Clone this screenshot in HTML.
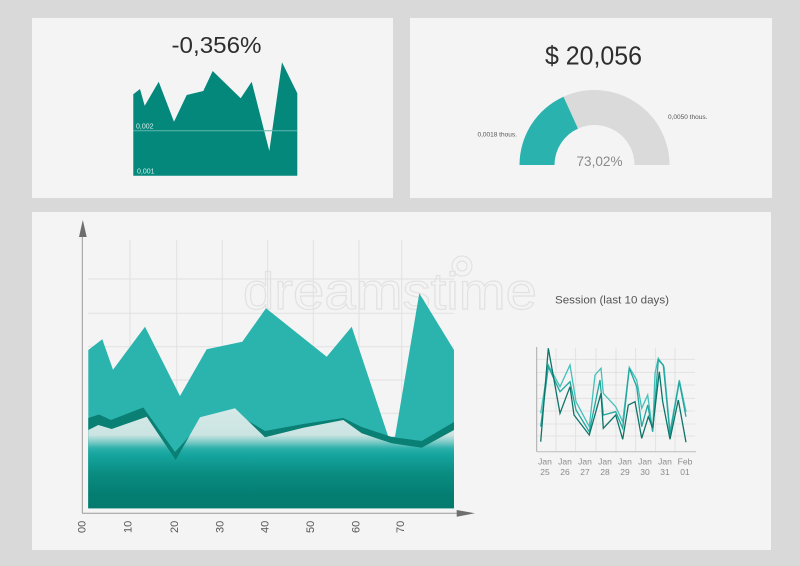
<!DOCTYPE html>
<html>
<head>
<meta charset="utf-8">
<style>
  html,body{margin:0;padding:0;background:#d9d9d9;}
  svg{display:block;}
  text{font-family:"Liberation Sans",sans-serif;}
</style>
</head>
<body>
<svg width="800" height="566" viewBox="0 0 800 566" xmlns="http://www.w3.org/2000/svg">
  <defs>
    <linearGradient id="lg" gradientUnits="userSpaceOnUse" x1="0" y1="405" x2="0" y2="508">
      <stop offset="0" stop-color="#d6eae9"/>
      <stop offset="0.29" stop-color="#cbe4e2"/>
      <stop offset="0.36" stop-color="#7ccbc7"/>
      <stop offset="0.42" stop-color="#2cb0aa"/>
      <stop offset="0.48" stop-color="#16a59f"/>
      <stop offset="0.66" stop-color="#0a8d82"/>
      <stop offset="0.85" stop-color="#057f73"/>
      <stop offset="1" stop-color="#047a6e"/>
    </linearGradient>
  </defs>
  <rect x="0" y="0" width="800" height="566" fill="#d9d9d9"/>

  <!-- panels -->
  <rect x="32" y="18" width="361" height="180" fill="#f4f4f4"/>
  <rect x="410" y="18" width="362" height="180" fill="#f4f4f4"/>
  <rect x="32" y="212" width="739" height="338" fill="#f4f4f4"/>

  <!-- top-left panel -->
  <text x="216.5" y="53" font-size="23" fill="#2e2e2e" text-anchor="middle" textLength="90" lengthAdjust="spacingAndGlyphs">-0,356%</text>
  <polygon fill="#03887b" points="133.3,94.3 140,89 144.7,105.7 158.7,81.7 174,121.7 186.7,95 203.3,91 212.7,71 240.7,98.3 251.7,81.7 269.3,151 282,62.3 297.3,93.3 297.3,175.7 133.3,175.7"/>
  <line x1="133.3" y1="130.7" x2="297.3" y2="130.7" stroke="#5fb5ac" stroke-width="1"/>
  <text x="136" y="128.5" font-size="7" fill="#d8efec">0,002</text>
  <text x="137" y="173.5" font-size="7" fill="#d8efec">0,001</text>

  <!-- top-right panel -->
  <text x="593.5" y="64.5" font-size="26" fill="#2e2e2e" text-anchor="middle" textLength="97" lengthAdjust="spacingAndGlyphs">$ 20,056</text>
  <path d="M563.5,96.7 A75,75 0 0 1 669.5,165 L634.5,165 A40,40 0 0 0 578,128.6 Z" fill="#dadada"/>
  <path d="M519.5,165 A75,75 0 0 1 563.5,96.7 L578,128.6 A40,40 0 0 0 554.5,165 Z" fill="#2ab3ae"/>
  <text x="599.5" y="166" font-size="14" fill="#8a8a8a" text-anchor="middle" textLength="46" lengthAdjust="spacingAndGlyphs">73,02%</text>
  <text x="477.5" y="136.5" font-size="6.5" fill="#555">0,0018 thous.</text>
  <text x="668" y="119" font-size="6.5" fill="#555">0,0050 thous.</text>

  <!-- bottom panel: watermark -->
  <text x="243" y="309" font-size="52" fill="none" stroke="#e2e2e2" stroke-width="1.2" textLength="294" lengthAdjust="spacingAndGlyphs">dreamstime</text>
  <circle cx="462" cy="266" r="10" fill="none" stroke="#e2e2e2" stroke-width="1.2"/>
  <circle cx="462" cy="266" r="5" fill="none" stroke="#e2e2e2" stroke-width="1.2"/>

  <!-- grid -->
  <g stroke="#e1e1e1" stroke-width="1">
    <line x1="130" y1="240" x2="130" y2="508"/>
    <line x1="176.7" y1="240" x2="176.7" y2="508"/>
    <line x1="222.3" y1="240" x2="222.3" y2="508"/>
    <line x1="267.7" y1="240" x2="267.7" y2="508"/>
    <line x1="313.3" y1="240" x2="313.3" y2="508"/>
    <line x1="359" y1="240" x2="359" y2="508"/>
    <line x1="401.7" y1="240" x2="401.7" y2="508"/>
    <line x1="88" y1="279" x2="454" y2="279"/>
    <line x1="88" y1="313.3" x2="454" y2="313.3"/>
    <line x1="88" y1="346.7" x2="454" y2="346.7"/>
    <line x1="88" y1="380" x2="454" y2="380"/>
    <line x1="88" y1="413.3" x2="454" y2="413.3"/>
  </g>

  <!-- areas -->
  <polygon fill="#2bb3ae" points="88.3,350 102.3,339.3 113,369.7 145,326.7 180,396 206.7,349.3 242.3,341.7 266,308.3 326.7,356.7 351.7,326.7 388.3,436.7 395,436.7 419.3,293.3 454,350 454,508.3 88.3,508.3"/>
  <polygon fill="#0a7f73" points="88.3,418 99,414.5 111,420 143.3,407.5 175,452 185,441 200,423 235,413 256.7,426 265,431 303.3,424 343.3,418 361.7,427 391.7,437 421.7,441 454,422 454,508.3 88.3,508.3"/>
  <polygon fill="url(#lg)" points="88.3,430 98.3,425 111.7,429 146.7,416.7 175.7,460 200,417.3 235,408.3 265,437.3 303.3,427.7 343.3,420 361.7,433.3 391.7,443.3 421.7,447.7 454,430 454,508.3 88.3,508.3"/>

  <!-- axes -->
  <line x1="82.3" y1="234" x2="82.3" y2="513.3" stroke="#999" stroke-width="1"/>
  <line x1="82.3" y1="513.3" x2="458" y2="513.3" stroke="#999" stroke-width="1"/>
  <polygon fill="#6e6e6e" points="82.8,220 79,237 86.7,237"/>
  <polygon fill="#6e6e6e" points="475,513.3 456.7,510 456.7,516.7"/>

  <!-- x labels rotated -->
  <g font-size="11" fill="#555">
    <text transform="translate(85.5,533) rotate(-90)">00</text>
    <text transform="translate(131.5,533) rotate(-90)">10</text>
    <text transform="translate(178,533) rotate(-90)">20</text>
    <text transform="translate(223.5,533) rotate(-90)">30</text>
    <text transform="translate(268.5,533) rotate(-90)">40</text>
    <text transform="translate(314,533) rotate(-90)">50</text>
    <text transform="translate(359.5,533) rotate(-90)">60</text>
    <text transform="translate(404,533) rotate(-90)">70</text>
  </g>

  <!-- session chart -->
  <text x="555" y="303.5" font-size="11" fill="#555" textLength="114" lengthAdjust="spacingAndGlyphs">Session (last 10 days)</text>
  <g stroke="#dedede" stroke-width="0.8">
    <line x1="556" y1="348" x2="556" y2="451.7"/>
    <line x1="575.7" y1="348" x2="575.7" y2="451.7"/>
    <line x1="596" y1="348" x2="596" y2="451.7"/>
    <line x1="616" y1="348" x2="616" y2="451.7"/>
    <line x1="635.7" y1="348" x2="635.7" y2="451.7"/>
    <line x1="655.7" y1="348" x2="655.7" y2="451.7"/>
    <line x1="675" y1="348" x2="675" y2="451.7"/>
    <line x1="536.7" y1="359.3" x2="695" y2="359.3"/>
    <line x1="536.7" y1="372.3" x2="695" y2="372.3"/>
    <line x1="536.7" y1="385" x2="695" y2="385"/>
    <line x1="536.7" y1="398.3" x2="695" y2="398.3"/>
    <line x1="536.7" y1="411" x2="695" y2="411"/>
    <line x1="536.7" y1="424" x2="695" y2="424"/>
    <line x1="536.7" y1="436" x2="695" y2="436"/>
  </g>
  <line x1="536.7" y1="347" x2="536.7" y2="451.7" stroke="#aaa" stroke-width="1"/>
  <line x1="536.7" y1="451.7" x2="696" y2="451.7" stroke="#bbb" stroke-width="1"/>
  <g fill="none" stroke-width="1.3" stroke-linejoin="miter">
    <polyline stroke="#45c0b9" points="540.7,413.3 548.3,365 560,386.7 570,365 576,401.7 589.3,426.7 595,375 601,368.3 603.3,393.3 615.7,406.7 622.7,421.7 629.3,367.3 636.7,380 641.7,408.3 647.7,395 652.7,431.7 655,373.3 658.3,358.3 664,366.7 670,431.7 679.3,380 686,411.7"/>
    <polyline stroke="#22a69f" points="540.7,426.7 548.3,366.7 560,391.7 570,381.7 576,410 589.3,431.7 600,380 603.3,415 615.7,411.7 622.7,428.3 629.3,368.3 636.7,386.7 641.7,426.7 647.7,405 652.7,431.7 658.3,360 663.3,365 670,435 679.3,381.7 686,416.7"/>
    <polyline stroke="#0d7468" points="540.7,441.7 548.3,348.3 560,413.3 570,386.7 574,415 589.3,435 601,393.3 603.3,428.3 615.7,415 622.7,439.3 628.3,405 635,401.7 641.7,438.3 648.3,416.7 652.7,428 659.3,371.7 662.7,401.7 670,439.3 678.3,400 686,442.3"/>
  </g>
  <g font-size="8.5" fill="#8a8a8a" text-anchor="middle">
    <text x="545" y="464.5">Jan</text><text x="545" y="475">25</text>
    <text x="565" y="464.5">Jan</text><text x="565" y="475">26</text>
    <text x="585" y="464.5">Jan</text><text x="585" y="475">27</text>
    <text x="605" y="464.5">Jan</text><text x="605" y="475">28</text>
    <text x="625" y="464.5">Jan</text><text x="625" y="475">29</text>
    <text x="645" y="464.5">Jan</text><text x="645" y="475">30</text>
    <text x="665" y="464.5">Jan</text><text x="665" y="475">31</text>
    <text x="685" y="464.5">Feb</text><text x="685" y="475">01</text>
  </g>
</svg>
</body>
</html>
